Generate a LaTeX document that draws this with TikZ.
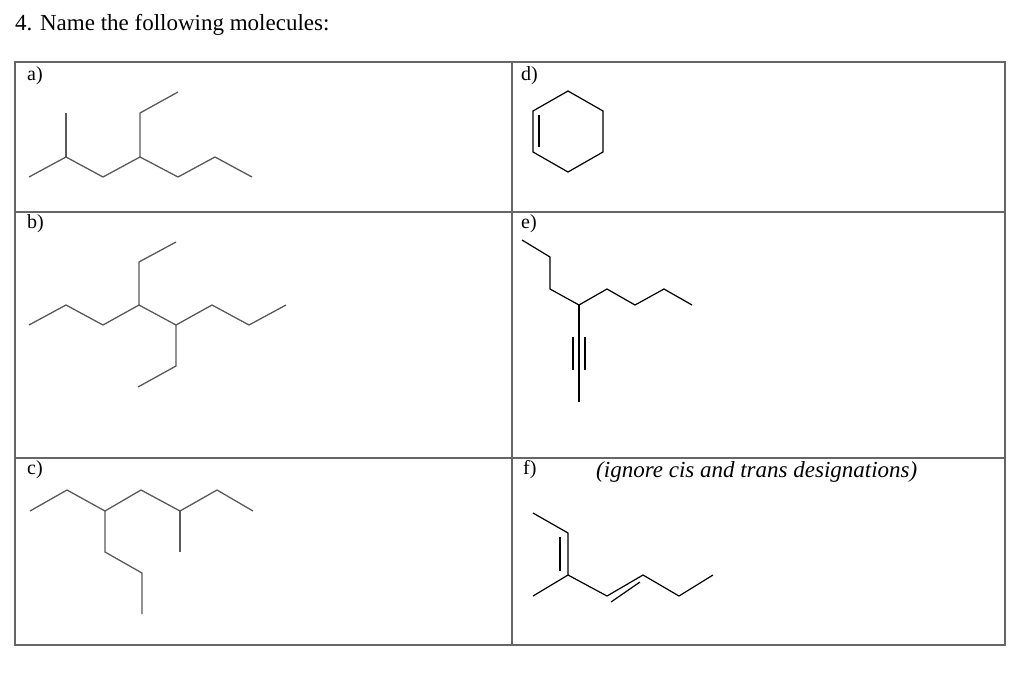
\documentclass[tikz,border=0pt]{standalone}
\usepackage{fontspec}
\setmainfont{Liberation Serif}
\begin{document}
\begin{tikzpicture}[x=1pt,y=-1pt,
  grid/.style={draw=black!60,line width=1.3pt},
  gmol/.style={draw=black!65,line width=1.3pt,line join=miter},
  kmol/.style={draw=black,line width=1.2pt},
  lab/.style={anchor=west,inner sep=0pt,font=\fontsize{20}{22}\selectfont}]
\useasboundingbox (0,0) rectangle (1024,688);
\node[anchor=west,inner sep=0pt,font=\fontsize{23}{26}\selectfont] (title) at (15,25) {4. Name the following molecules:};
% table
\draw[grid] (15,62) rectangle (1005,645);
\draw[grid] (15,212) -- (1005,212);
\draw[grid] (15,458) -- (1005,458);
\draw[grid] (512,62) -- (512,645);
% labels
\node[lab] (la) at (27,76) {a)};
\node[lab] (ld) at (521,76) {d)};
\node[lab] (lb) at (27,224) {b)};
\node[lab] (le) at (521,224) {e)};
\node[lab] (lc) at (27,470) {c)};
\node[lab] (lf) at (523,470) {f)};
\node[lab,font=\fontsize{23}{26}\selectfont] (note) at (596,472) {\itshape (ignore cis and trans designations)};
% a
\draw[gmol] (29,177)--(66,157)--(103,177)--(140,157)--(178,177)--(215,157)--(252,177);
\draw[gmol] (66,157)--(66,113);
\draw[gmol] (140,157)--(140,113)--(178,92);
% b
\draw[gmol] (29,325)--(66,305)--(103,325)--(139,305)--(176,325)--(212,305)--(249,325)--(286,305);
\draw[gmol] (139,305)--(139,262)--(176,242);
\draw[gmol] (176,325)--(176,366)--(138,387);
% c
\draw[gmol] (30,511)--(67,490)--(105,511)--(141,490)--(180,511)--(217,490)--(253,511);
\draw[gmol] (105,511)--(105,552)--(142,573)--(142,614);
\draw[gmol] (180,511)--(180,552);
% d
\draw[kmol] (568,91)--(603,111)--(603,152)--(568,172)--(533,152)--(533,111)--cycle;
\draw[kmol] (539,115)--(539,147);
% e
\draw[kmol] (522,240)--(550,257)--(550,289)--(579,305)--(607,289)--(635,305)--(664,289)--(692,305);
\draw[kmol] (579,305)--(579,402);
\draw[kmol] (573,337)--(573,370);
\draw[kmol] (585,337)--(585,370);
% f
\draw[kmol] (533,513)--(568,533)--(568,575)--(533,596);
\draw[kmol] (568,575)--(607,596)--(643,575)--(679,596)--(713,575);
\draw[kmol] (560,537)--(560,571);
\draw[kmol] (611,602)--(640,582);
\end{tikzpicture}
\end{document}
